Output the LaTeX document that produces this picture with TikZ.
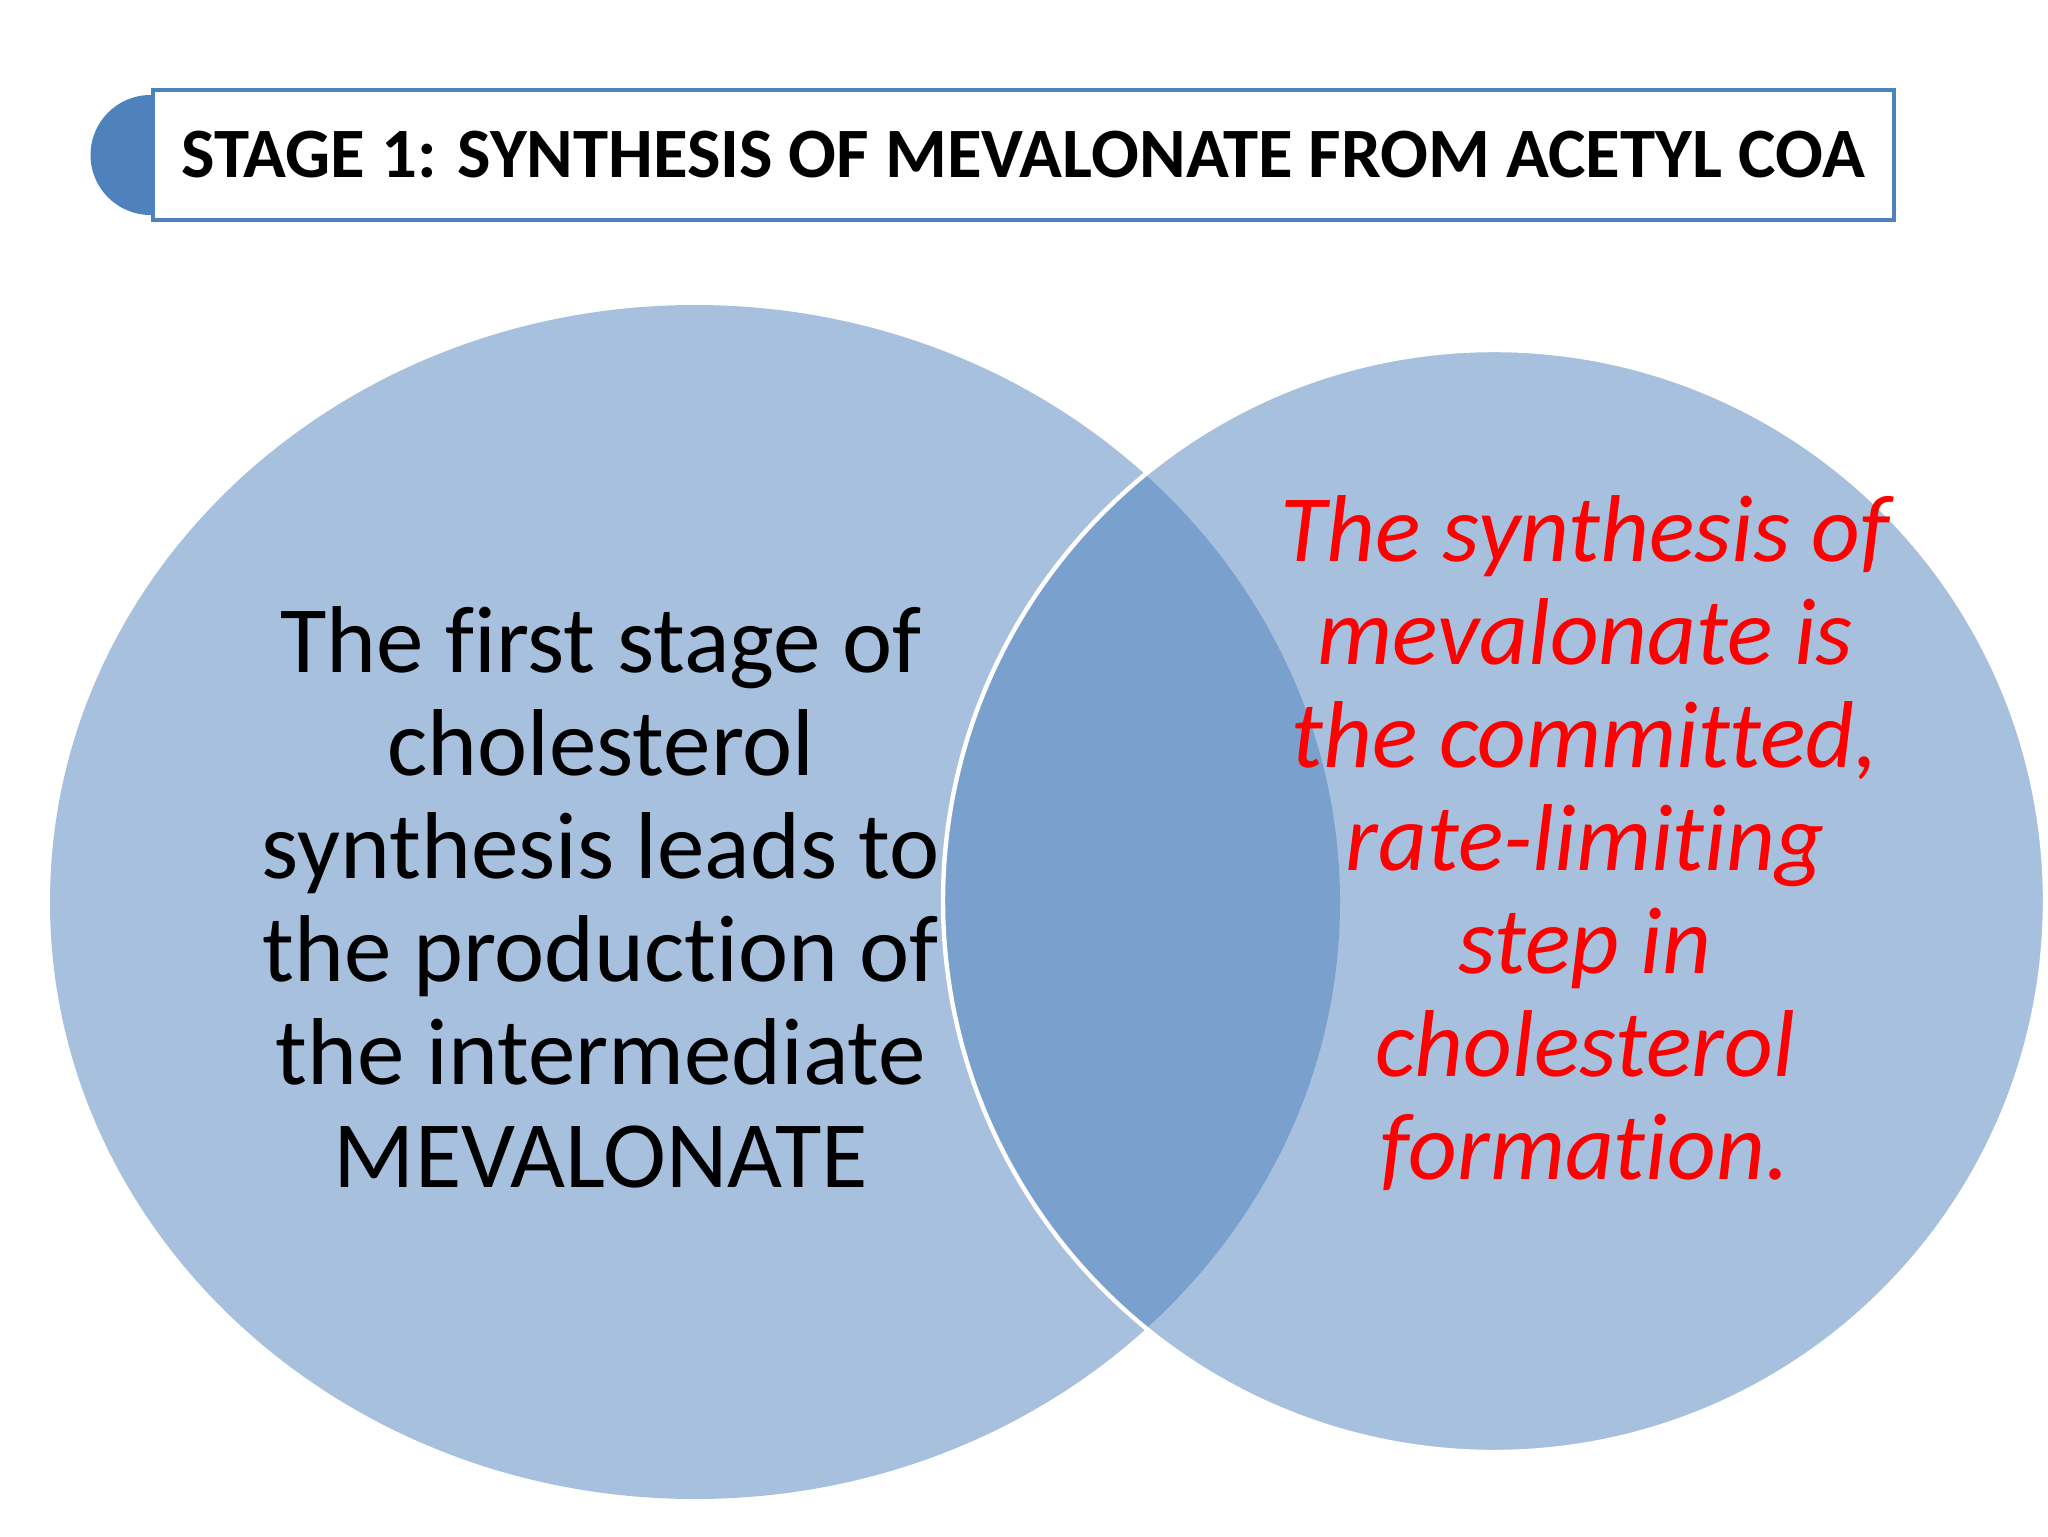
\documentclass[tikz,border=0pt]{standalone}
\usepackage{fontspec}
\setmainfont{Carlito}[Ligatures=CommonOff]
\usepackage{xcolor}
\usetikzlibrary{positioning, shapes.geometric, backgrounds}
\definecolor{officeblue}{HTML}{4F81BD}
\definecolor{textred}{HTML}{FF0000}

\begin{document}
\begin{tikzpicture}[x=0.5pt, y=-0.5pt,
    bubble/.style={fill=officeblue, fill opacity=0.5, inner sep=0pt},
    bodytext/.style={align=center, inner sep=0pt, font=\fontsize{47.5pt}{51.5pt}\selectfont}]
    \useasboundingbox (0,0) rectangle (2048,1536);
    % title bar
    \node[draw=officeblue, line width=2pt, fill=white, minimum width=870.5pt, minimum height=64.5pt, inner sep=0pt,
          font=\fontsize{35.4pt}{40pt}\selectfont\bfseries] (title) at (1023,155) {STAGE 1: SYNTHESIS OF MEVALONATE FROM ACETYL COA};
    \begin{scope}[on background layer]
        \node[circle, fill=officeblue, minimum size=60pt, inner sep=0pt] (knob) at (title.west) {};
    \end{scope}

    % overlapping bubbles
    \node[bubble, ellipse, minimum width=645pt, minimum height=597pt] (first) at (695,902) {};
    \node[bubble, circle, draw=white, line width=2.2pt, draw opacity=1, minimum size=551pt] (second) at (1494,901) {};

    \node[bodytext] (firsttext) at (601,897) {The first stage of\\cholesterol\\synthesis leads to\\the production of\\the intermediate\\MEVALONATE};
    \node[bodytext, text=textred, font=\fontsize{47.5pt}{51.5pt}\selectfont\itshape] (secondtext) at (1585,843) {The synthesis of\\mevalonate is\\the committed,\\rate-limiting\\step in\\cholesterol\\formation.};
\end{tikzpicture}
\end{document}
